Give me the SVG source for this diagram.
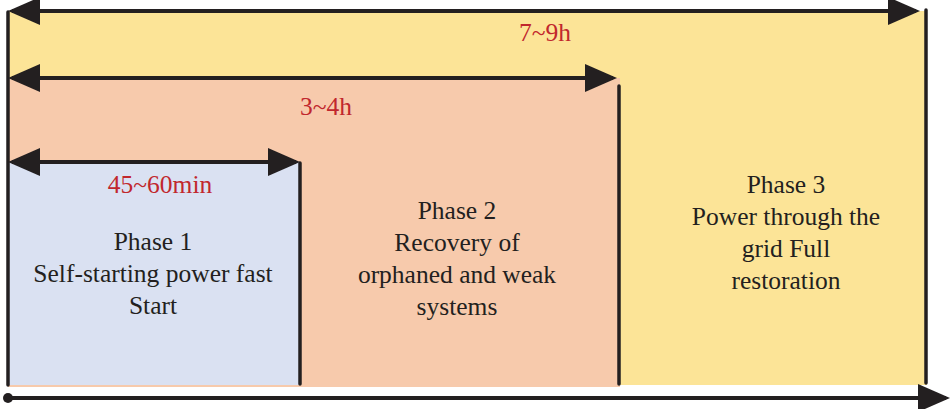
<svg xmlns="http://www.w3.org/2000/svg" width="950" height="409" viewBox="0 0 950 409">
<style>
text{font-family:'Liberation Serif','Times New Roman','DejaVu Serif',serif;font-size:25.5px;text-anchor:middle}
.t{fill:#231f20}
.r{fill:#c1272d}
.l{stroke:#231f20;stroke-width:4;fill:none}
.v{stroke:#231f20;stroke-width:3.5;stroke-linecap:round}
</style>
<defs>
<marker id="a" markerWidth="8" markerHeight="8" refX="7" refY="4" orient="auto-start-reverse" markerUnits="strokeWidth"><path d="M0,0.5 L8,4 L0,7.5 Z" fill="#231f20"/></marker>
</defs>
<g id="phase3"><rect x="8" y="11" width="919" height="374" fill="#fce497"/>
<text class="t" x="786" y="193">Phase 3</text><text class="t" x="786" y="225">Power through the</text><text class="t" x="786" y="257">grid Full</text><text class="t" x="786" y="289">restoration</text></g>
<g id="phase2"><rect x="8" y="78" width="612" height="309" fill="#f7caac"/>
<text class="t" x="457" y="219">Phase 2</text><text class="t" x="457" y="251">Recovery of</text><text class="t" x="457" y="283">orphaned and weak</text><text class="t" x="457" y="315">systems</text></g>
<g id="phase1"><rect x="8" y="162" width="292" height="223" fill="#dae1f2"/>
<text class="t" x="153" y="250">Phase 1</text><text class="t" x="153" y="282">Self-starting power fast</text><text class="t" x="153" y="314">Start</text></g>
<g id="labels"><text class="r" x="545" y="41">7~9h</text><text class="r" x="326" y="115">3~4h</text><text class="r" x="160" y="193">45~60min</text></g>
<g id="connectors">
<line class="v" x1="8" y1="12" x2="8" y2="385"/>
<line class="v" x1="300" y1="163" x2="300" y2="384"/>
<line class="v" x1="619" y1="86" x2="619" y2="384"/>
<line class="v" x1="926" y1="10" x2="926" y2="383"/>
<line class="l" x1="12" y1="11" x2="916" y2="11" marker-start="url(#a)" marker-end="url(#a)"/>
<line class="l" x1="12" y1="78" x2="613" y2="78" marker-start="url(#a)" marker-end="url(#a)"/>
<line class="l" x1="12" y1="162" x2="296" y2="162" marker-start="url(#a)" marker-end="url(#a)"/>
<line class="l" x1="8" y1="398" x2="946" y2="398" marker-end="url(#a)"/>
<circle cx="8" cy="398" r="5" fill="#231f20"/>
</g>
</svg>
